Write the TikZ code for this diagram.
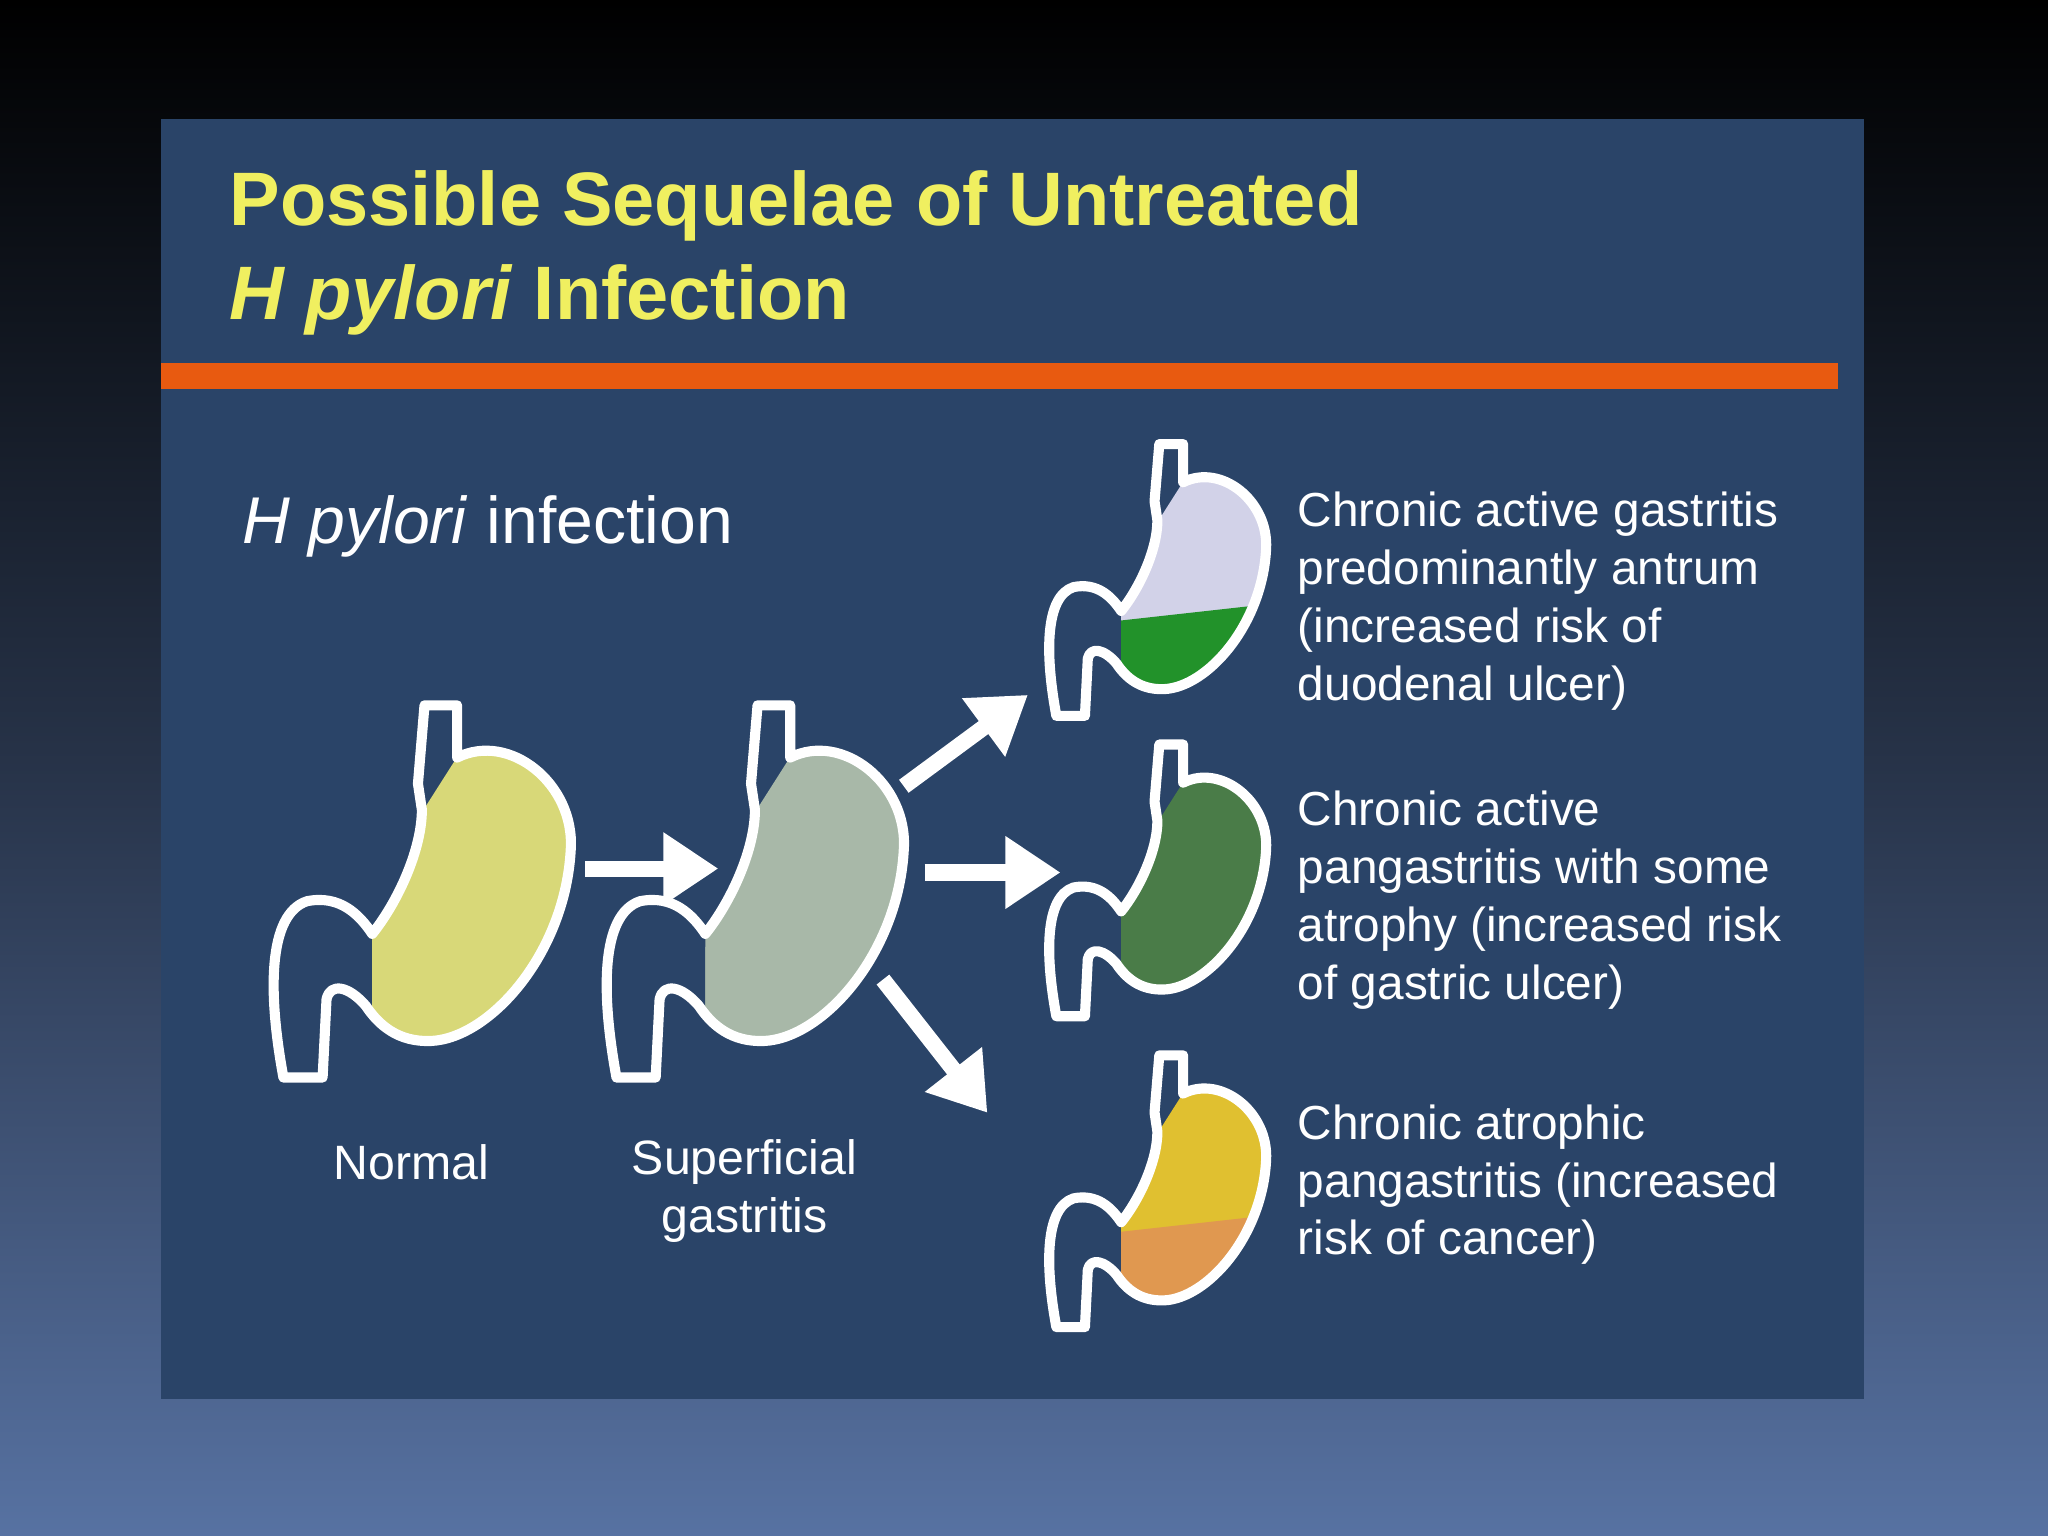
\documentclass[tikz,border=0pt]{standalone}
\usepackage{fontspec}
\setmainfont{Liberation Sans}
\usetikzlibrary{arrows.meta}
\definecolor{panel}{HTML}{2A4468}
\definecolor{ttl}{HTML}{F0EF60}
\definecolor{bar}{HTML}{E85A10}
\definecolor{bgb}{HTML}{5772A2}
\definecolor{cN}{HTML}{D8D878}
\definecolor{cS}{HTML}{A8B8A8}
\definecolor{cLav}{HTML}{D2D2E8}
\definecolor{cGr}{HTML}{22922A}
\definecolor{cDg}{HTML}{4A7C48}
\definecolor{cYe}{HTML}{E0C030}
\definecolor{cOr}{HTML}{E09850}
\tikzset{
 outl/.style={draw=white,line width=2.2pt,line join=round},
 lbl/.style={text=white,font=\fontsize{10.4}{12.6}\selectfont,align=left,anchor=north west,inner sep=0pt},
 bigarrow/.style={draw=white,line width=3.5pt,-{Triangle[length=12pt,width=15pt]}},
}
\newcommand{\stompath}{(120,0) -- (145,0) -- (145,40)
     .. controls (185,20) and (235,60) .. (232,110)
     .. controls (228,190) and (170,255) .. (125,257)
     .. controls (100,258) and (85,245) .. (75,230)
     .. controls (62,215) and (48,212) .. (45,225)
     -- (42,285) -- (12,285)
     .. controls (0,220) and (0,160) .. (30,150)
     .. controls (55,145) and (70,160) .. (80,175)
     .. controls (100,150) and (118,110) .. (118,80)
     -- (115,60) -- cycle}
\newcommand{\stom}[4]{% origin, scale, top color, bottom color
 \begin{scope}[shift={#1},scale=#2]
  \begin{scope}
   \clip \stompath;
   \fill[#3] (80,90) -- (118,82) -- (146,38) -- (250,38) -- (250,270) -- (80,270) -- cycle;
   \fill[#4] (80,185) -- (215,170) -- (250,270) -- (80,270) -- cycle;
  \end{scope}
  \draw[outl] \stompath;
 \end{scope}}
\begin{document}
\begin{tikzpicture}[x=0.01cm,y=-0.01cm]
\useasboundingbox (0,0) rectangle (1568,1176);
\shade[top color=black,bottom color=bgb,middle color=black!55!bgb] (0,0) rectangle (1568,1176);
\fill[panel] (123,91) rectangle (1427,1071);
\fill[bar] (123,278) rectangle (1407,298);
\node[anchor=north west,inner sep=0pt,text=ttl,align=left,font=\bfseries\fontsize{16.5}{20.5}\selectfont] (title) at (175,130)
 {Possible Sequelae of Untreated\\\textit{H pylori} Infection};
\node[anchor=west,inner sep=0pt,text=white,font=\fontsize{14.4}{17}\selectfont] (hp) at (185,403) {\textit{H pylori} infection};

\stom{(205,540)}{1}{cN}{cN}
\stom{(460,540)}{1}{cS}{cS}
\stom{(800,340)}{0.73}{cLav}{cGr}
\stom{(800,570)}{0.73}{cDg}{cDg}
\stom{(800,808)}{0.73}{cYe}{cOr}

\node[text=white,font=\fontsize{10.5}{12.6}\selectfont] (n) at (315,890) {Normal};
\node[text=white,align=center,font=\fontsize{10.5}{12.6}\selectfont] (s) at (570,912) {Superficial\\gastritis};

\node[lbl] (t1) at (993,376) {Chronic active gastritis\\predominantly antrum\\(increased risk of\\duodenal ulcer)};
\node[lbl] (t2) at (993,605) {Chronic active\\pangastritis with some\\atrophy (increased risk\\of gastric ulcer)};
\node[lbl] (t3) at (993,845) {Chronic atrophic\\pangastritis (increased\\risk of cancer)};

\coordinate (a1) at (448,665); \coordinate (b1) at (550,665);
\coordinate (a2) at (692,602); \coordinate (b2) at (787,532);
\coordinate (a3) at (708,668); \coordinate (b3) at (812,668);
\coordinate (a4) at (676,750); \coordinate (b4) at (756,852);
\draw[bigarrow] (a1) -- (b1);
\draw[bigarrow] (a2) -- (b2);
\draw[bigarrow] (a3) -- (b3);
\draw[bigarrow] (a4) -- (b4);
\end{tikzpicture}
\end{document}
